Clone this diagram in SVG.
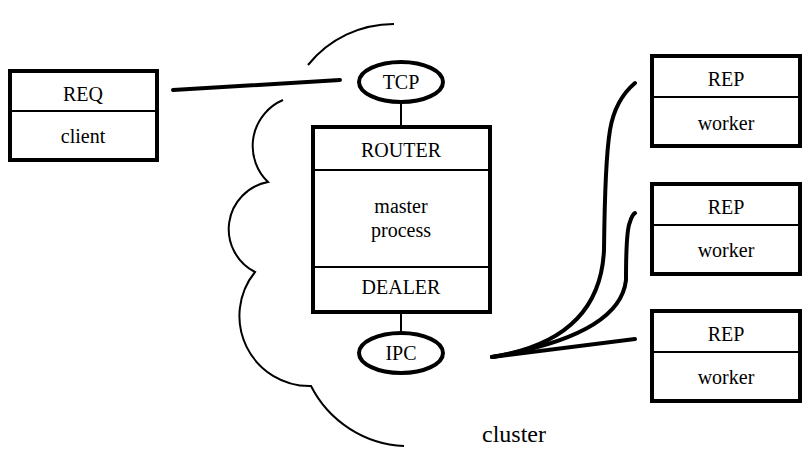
<svg xmlns="http://www.w3.org/2000/svg" width="810" height="470" viewBox="0 0 810 470">
<style>
.b{fill:#fff;stroke:#000;stroke-width:4}
.d{stroke:#000;stroke-width:2}
.t{font-family:"Liberation Serif","DejaVu Serif",serif;font-size:20px;text-anchor:middle;fill:#000}
.c{fill:none;stroke:#000;stroke-width:2}
.w{fill:none;stroke:#000;stroke-width:4;stroke-linecap:round}
</style>
<rect width="810" height="470" fill="#fff"/>
<g id="cloud">
<path class="c" d="M308,65 A110,110 0 0 1 394,24"/>
<path class="c" d="M283,100 A50,50 0 0 0 268,182 A48,48 0 0 0 255,272 A70,70 0 0 0 311,386 A110,110 0 0 0 404,446"/>
<text class="t" x="514" y="442" style="font-size:24px">cluster</text>
</g>
<g id="connectors">
<line class="w" x1="173" y1="90" x2="340" y2="80"/>
<line class="d" x1="401" y1="102" x2="401" y2="127"/>
<line class="d" x1="401" y1="312" x2="401" y2="333"/>
<path class="w" d="M492,357 Q600,340 604,250 Q605,160 610,130 Q615,100 635,83"/>
<path class="w" d="M492,357 Q620,335 626,280 Q626,230 630,222 Q632,215 635,213"/>
<line class="w" x1="492" y1="357" x2="635" y2="339"/>
</g>
<g id="client">
<rect class="b" x="10" y="71" width="147" height="89"/>
<line class="d" x1="10" y1="111" x2="157" y2="111"/>
<text class="t" x="83" y="101">REQ</text>
<text class="t" x="83" y="143">client</text>
</g>
<g id="tcp">
<ellipse class="b" cx="401" cy="82" rx="42" ry="20"/>
<text class="t" x="401" y="89">TCP</text>
</g>
<g id="master">
<rect class="b" x="313" y="127" width="177" height="185"/>
<line class="d" x1="313" y1="170" x2="490" y2="170"/>
<line class="d" x1="313" y1="267" x2="490" y2="267"/>
<text class="t" x="401" y="157">ROUTER</text>
<text class="t" x="401" y="213">master</text>
<text class="t" x="401" y="237">process</text>
<text class="t" x="401" y="294">DEALER</text>
</g>
<g id="ipc">
<ellipse class="b" cx="401" cy="353" rx="42" ry="20"/>
<text class="t" x="401" y="360">IPC</text>
</g>
<g id="worker1">
<rect class="b" x="652" y="56" width="148" height="90"/>
<line class="d" x1="652" y1="97" x2="800" y2="97"/>
<text class="t" x="726" y="86">REP</text>
<text class="t" x="726" y="130">worker</text>
</g>
<g id="worker2">
<rect class="b" x="652" y="184" width="148" height="90"/>
<line class="d" x1="652" y1="225" x2="800" y2="225"/>
<text class="t" x="726" y="214">REP</text>
<text class="t" x="726" y="257">worker</text>
</g>
<g id="worker3">
<rect class="b" x="652" y="311" width="148" height="90"/>
<line class="d" x1="652" y1="352" x2="800" y2="352"/>
<text class="t" x="726" y="341">REP</text>
<text class="t" x="726" y="384">worker</text>
</g>
</svg>
